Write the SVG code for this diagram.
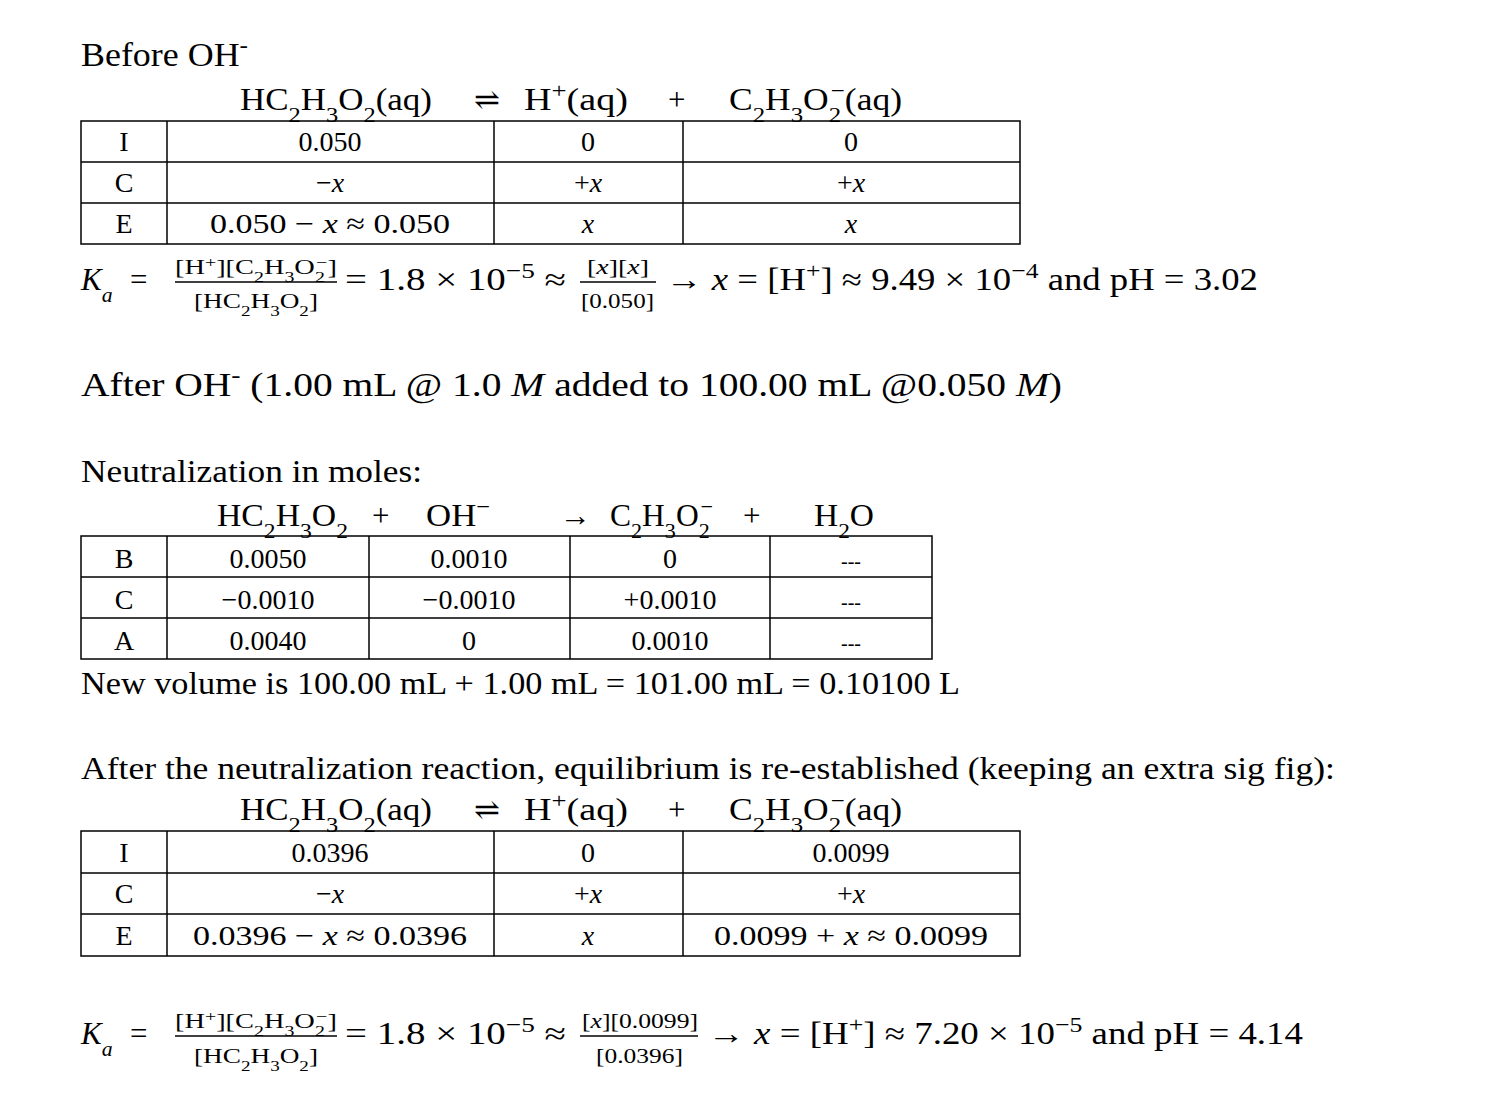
<svg xmlns="http://www.w3.org/2000/svg" width="1490" height="1114" viewBox="0 0 1490 1114">
<style>
text{font-family:"Liberation Serif","DejaVu Serif",serif;fill:#000}
.h{font-size:34px}
.t{font-size:28px;text-anchor:middle}
.e{font-size:31px}
.f{font-size:20px}
.i{font-style:italic}
.s{font-size:70%;baseline-shift:sub}
.p{font-size:70%;baseline-shift:super}
line{stroke:#000;stroke-width:1.5}
rect{fill:none;stroke:#000;stroke-width:1.5}
</style>
<rect x="0" y="0" width="1490" height="1114" style="fill:#fff;stroke:none"/>
<text class="h" x="81" y="66" textLength="167" lengthAdjust="spacingAndGlyphs">Before OH<tspan class="p">-</tspan></text>
<g id="eq1">
<text class="e" x="240" y="110" textLength="192" lengthAdjust="spacingAndGlyphs">HC<tspan class="s">2</tspan>H<tspan class="s">3</tspan>O<tspan class="s">2</tspan>(aq)</text>
<text class="e" x="474" y="110">⇌</text>
<text class="e" x="524" y="110" textLength="104" lengthAdjust="spacingAndGlyphs">H<tspan class="p">+</tspan>(aq)</text>
<text class="e" x="668" y="110">+</text>
<text class="e" x="729" y="110" textLength="173" lengthAdjust="spacingAndGlyphs">C<tspan class="s">2</tspan>H<tspan class="s">3</tspan>O<tspan class="s">2</tspan><tspan class="p" dx="-9">−</tspan>(aq)</text>
</g>
<g id="table1">
<rect x="81" y="121" width="939" height="123"/>
<line x1="81" y1="162" x2="1020" y2="162"/><line x1="81" y1="203" x2="1020" y2="203"/>
<line x1="167" y1="121" x2="167" y2="244"/><line x1="494" y1="121" x2="494" y2="244"/><line x1="683" y1="121" x2="683" y2="244"/>
<text class="t" x="124" y="151">I</text><text class="t" x="330" y="151">0.050</text><text class="t" x="588" y="151">0</text><text class="t" x="851" y="151">0</text>
<text class="t" x="124" y="192">C</text><text class="t" x="330" y="192">−<tspan class="i">x</tspan></text><text class="t" x="588" y="192">+<tspan class="i">x</tspan></text><text class="t" x="851" y="192">+<tspan class="i">x</tspan></text>
<text class="t" x="124" y="233">E</text><text class="t" x="330" y="233" textLength="240" lengthAdjust="spacingAndGlyphs">0.050 − <tspan class="i">x</tspan> ≈ 0.050</text><text class="t" x="588" y="233"><tspan class="i">x</tspan></text><text class="t" x="851" y="233"><tspan class="i">x</tspan></text>
</g>
<g id="ka1">
<text class="e" x="81" y="290"><tspan class="i">K</tspan><tspan class="s i">a</tspan></text><text class="e" x="130" y="290">=</text>
<text class="f" x="175" y="274" textLength="162" lengthAdjust="spacingAndGlyphs">[H<tspan class="p">+</tspan>][C<tspan class="s">2</tspan>H<tspan class="s">3</tspan>O<tspan class="s">2</tspan><tspan class="p" dx="-6">−</tspan>]</text>
<line x1="175" y1="282" x2="337" y2="282"/>
<text class="f" x="194" y="308" textLength="124" lengthAdjust="spacingAndGlyphs">[HC<tspan class="s">2</tspan>H<tspan class="s">3</tspan>O<tspan class="s">2</tspan>]</text>
<text class="e" x="345" y="290" textLength="221" lengthAdjust="spacingAndGlyphs">=  1.8 × 10<tspan class="p">−5</tspan> ≈</text>
<text class="f" x="587" y="274" textLength="62" lengthAdjust="spacingAndGlyphs">[<tspan class="i">x</tspan>][<tspan class="i">x</tspan>]</text>
<line x1="580" y1="282" x2="656" y2="282"/>
<text class="f" x="581" y="308" textLength="73" lengthAdjust="spacingAndGlyphs">[0.050]</text>
<text class="e" x="666" y="290" textLength="592" lengthAdjust="spacingAndGlyphs">→ <tspan class="i">x</tspan> = [H<tspan class="p">+</tspan>] ≈ 9.49 × 10<tspan class="p">−4</tspan> and pH = 3.02</text>
</g>
<text class="h" x="81" y="396" textLength="981" lengthAdjust="spacingAndGlyphs">After OH<tspan class="p">-</tspan> (1.00 mL @ 1.0 <tspan class="i">M</tspan> added to 100.00 mL @0.050 <tspan class="i">M</tspan>)</text>
<text class="e" x="81" y="482" textLength="341" lengthAdjust="spacingAndGlyphs">Neutralization in moles:</text>
<g id="eq2">
<text class="e" x="217" y="526" textLength="131" lengthAdjust="spacingAndGlyphs">HC<tspan class="s">2</tspan>H<tspan class="s">3</tspan>O<tspan class="s">2</tspan></text>
<text class="e" x="372" y="526">+</text>
<text class="e" x="426" y="526" textLength="64" lengthAdjust="spacingAndGlyphs">OH<tspan class="p">−</tspan></text>
<text class="e" x="560" y="526">→</text>
<text class="e" x="610" y="526" textLength="103" lengthAdjust="spacingAndGlyphs">C<tspan class="s">2</tspan>H<tspan class="s">3</tspan>O<tspan class="s">2</tspan><tspan class="p" dx="-9">−</tspan></text>
<text class="e" x="743" y="526">+</text>
<text class="e" x="814" y="526" textLength="60" lengthAdjust="spacingAndGlyphs">H<tspan class="s">2</tspan>O</text>
</g>
<g id="table2">
<rect x="81" y="536" width="851" height="123"/>
<line x1="81" y1="577" x2="932" y2="577"/><line x1="81" y1="618" x2="932" y2="618"/>
<line x1="167" y1="536" x2="167" y2="659"/><line x1="369" y1="536" x2="369" y2="659"/><line x1="570" y1="536" x2="570" y2="659"/><line x1="770" y1="536" x2="770" y2="659"/>
<text class="t" x="124" y="568">B</text><text class="t" x="268" y="568">0.0050</text><text class="t" x="469" y="568">0.0010</text><text class="t" x="670" y="568">0</text><text class="t" x="851" y="568" style="font-size:20px">---</text>
<text class="t" x="124" y="609">C</text><text class="t" x="268" y="609">−0.0010</text><text class="t" x="469" y="609">−0.0010</text><text class="t" x="670" y="609">+0.0010</text><text class="t" x="851" y="609" style="font-size:20px">---</text>
<text class="t" x="124" y="650">A</text><text class="t" x="268" y="650">0.0040</text><text class="t" x="469" y="650">0</text><text class="t" x="670" y="650">0.0010</text><text class="t" x="851" y="650" style="font-size:20px">---</text>
</g>
<text class="e" x="81" y="694" textLength="879" lengthAdjust="spacingAndGlyphs">New volume is 100.00 mL + 1.00 mL = 101.00 mL = 0.10100 L</text>
<text class="e" x="81" y="779" textLength="1254" lengthAdjust="spacingAndGlyphs">After the neutralization reaction, equilibrium is re-established (keeping an extra sig fig):</text>
<g id="eq3">
<text class="e" x="240" y="820" textLength="192" lengthAdjust="spacingAndGlyphs">HC<tspan class="s">2</tspan>H<tspan class="s">3</tspan>O<tspan class="s">2</tspan>(aq)</text>
<text class="e" x="474" y="820">⇌</text>
<text class="e" x="524" y="820" textLength="104" lengthAdjust="spacingAndGlyphs">H<tspan class="p">+</tspan>(aq)</text>
<text class="e" x="668" y="820">+</text>
<text class="e" x="729" y="820" textLength="173" lengthAdjust="spacingAndGlyphs">C<tspan class="s">2</tspan>H<tspan class="s">3</tspan>O<tspan class="s">2</tspan><tspan class="p" dx="-9">−</tspan>(aq)</text>
</g>
<g id="table3">
<rect x="81" y="831" width="939" height="125"/>
<line x1="81" y1="873" x2="1020" y2="873"/><line x1="81" y1="914" x2="1020" y2="914"/>
<line x1="167" y1="831" x2="167" y2="956"/><line x1="494" y1="831" x2="494" y2="956"/><line x1="683" y1="831" x2="683" y2="956"/>
<text class="t" x="124" y="862">I</text><text class="t" x="330" y="862">0.0396</text><text class="t" x="588" y="862">0</text><text class="t" x="851" y="862">0.0099</text>
<text class="t" x="124" y="903">C</text><text class="t" x="330" y="903">−<tspan class="i">x</tspan></text><text class="t" x="588" y="903">+<tspan class="i">x</tspan></text><text class="t" x="851" y="903">+<tspan class="i">x</tspan></text>
<text class="t" x="124" y="945">E</text><text class="t" x="330" y="945" textLength="274" lengthAdjust="spacingAndGlyphs">0.0396 − <tspan class="i">x</tspan> ≈ 0.0396</text><text class="t" x="588" y="945"><tspan class="i">x</tspan></text><text class="t" x="851" y="945" textLength="274" lengthAdjust="spacingAndGlyphs">0.0099 + <tspan class="i">x</tspan> ≈ 0.0099</text>
</g>
<g id="ka2">
<text class="e" x="81" y="1044"><tspan class="i">K</tspan><tspan class="s i">a</tspan></text><text class="e" x="130" y="1044">=</text>
<text class="f" x="175" y="1028" textLength="162" lengthAdjust="spacingAndGlyphs">[H<tspan class="p">+</tspan>][C<tspan class="s">2</tspan>H<tspan class="s">3</tspan>O<tspan class="s">2</tspan><tspan class="p" dx="-6">−</tspan>]</text>
<line x1="175" y1="1036" x2="337" y2="1036"/>
<text class="f" x="194" y="1063" textLength="124" lengthAdjust="spacingAndGlyphs">[HC<tspan class="s">2</tspan>H<tspan class="s">3</tspan>O<tspan class="s">2</tspan>]</text>
<text class="e" x="345" y="1044" textLength="221" lengthAdjust="spacingAndGlyphs">=  1.8 × 10<tspan class="p">−5</tspan> ≈</text>
<text class="f" x="582" y="1028" textLength="116" lengthAdjust="spacingAndGlyphs">[<tspan class="i">x</tspan>][0.0099]</text>
<line x1="580" y1="1036" x2="698" y2="1036"/>
<text class="f" x="596" y="1063" textLength="87" lengthAdjust="spacingAndGlyphs">[0.0396]</text>
<text class="e" x="708" y="1044" textLength="595" lengthAdjust="spacingAndGlyphs">→ <tspan class="i">x</tspan> = [H<tspan class="p">+</tspan>] ≈ 7.20 × 10<tspan class="p">−5</tspan> and pH = 4.14</text>
</g>
</svg>
